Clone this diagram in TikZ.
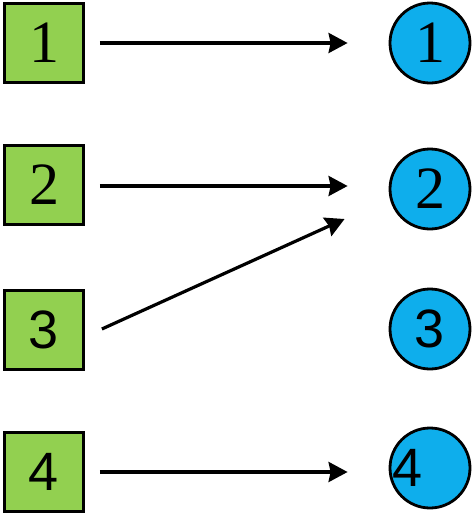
\documentclass[tikz,border=0pt]{standalone}
\usepackage{fontspec}
\newfontfamily\sansdig{Liberation Sans}
\newfontfamily\serifdig{Liberation Serif}
\usetikzlibrary{arrows.meta}
\definecolor{boxgreen}{HTML}{92D050}
\definecolor{ballblue}{HTML}{0EAEEC}
\tikzset{
  sq/.style={draw=black, line width=2.8pt, fill=boxgreen, minimum size=79pt, inner sep=0pt},
  ball/.style={draw=black, line width=2.8pt, fill=ballblue, circle, minimum size=80pt, inner sep=0pt},
  serifnum/.style={font=\serifdig\fontsize{60}{60}\selectfont},
  sansnum/.style={font=\sansdig\fontsize{54}{54}\selectfont},
  arr/.style={line width=3.2pt, -{Stealth[length=19pt,width=20pt,inset=2pt]}}
}
\begin{document}
\begin{tikzpicture}[x=1pt,y=1pt]
\useasboundingbox (0,0) rectangle (474,-515);
\node[sq] (s1) at (44,-43) {};
\node[sq] (s2) at (44,-185) {};
\node[sq] (s3) at (44,-330) {};
\node[sq] (s4) at (44,-472) {};
\node[serifnum] (t1) at (s1) {1};
\node[serifnum] (t2) at (s2) {2};
\node[sansnum] (t3) at (s3) {3};
\node[sansnum] (t4) at (s4) {4};
\node[ball] (c1) at (430,-43) {};
\node[ball] (c2) at (430,-189) {};
\node[ball] (c3) at (430,-329) {};
\node[ball] (c4) at (430,-468) {};
\node[serifnum] (u1) at (c1) {1};
\node[serifnum] (u2) at (c2) {2};
\node[sansnum] (u3) at (c3) {3};
\node[sansnum] (u4) at ([xshift=-22pt]c4.center) {4};
\draw[arr, shorten <=15pt, shorten >=41pt] (s1) -- (c1);
\draw[arr, shorten <=15pt, shorten >=41pt] (s2.east |- 0,-186) -- (c2.west |- 0,-186);
\coordinate (a3s) at ([xshift=17pt,yshift=1pt]s3.east);
\coordinate (a3e) at ([shift={(-44pt,-30pt)}]c2.west);
\draw[arr] (a3s) -- (a3e);
\draw[arr, shorten <=15pt, shorten >=41pt] (s4) -- (c4.west |- s4);
\end{tikzpicture}
\end{document}
